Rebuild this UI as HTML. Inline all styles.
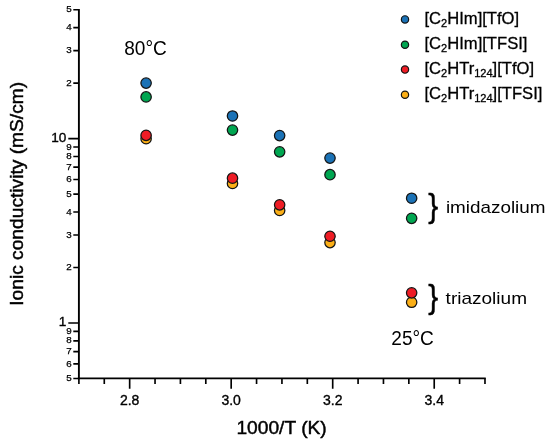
<!DOCTYPE html>
<html><head><meta charset="utf-8"><title>Ionic conductivity</title>
<style>html,body{margin:0;padding:0;background:#fff}svg{display:block}</style></head>
<body>
<svg width="550" height="443" viewBox="0 0 550 443" font-family="Liberation Sans, Arial, Helvetica, sans-serif">
<rect width="550" height="443" fill="#fff"/>
<g stroke="#000" fill="none" stroke-linecap="butt">
<path d="M78.9 8.91V379.30" stroke-width="1.9"/>
<path d="M77.85 378.3H485.78" stroke-width="1.75"/>
<path d="M68.3 138.60H78.9 M68.3 323.00H78.9 M73.3 9.71H78.9 M73.3 27.58H78.9 M73.3 50.62H78.9 M73.3 83.09H78.9 M73.3 147.04H78.9 M73.3 156.47H78.9 M73.3 167.16H78.9 M73.3 179.51H78.9 M73.3 194.11H78.9 M73.3 211.98H78.9 M73.3 235.02H78.9 M73.3 267.49H78.9 M73.3 331.44H78.9 M73.3 340.87H78.9 M73.3 351.56H78.9 M73.3 363.91H78.9 M73.3 378.51H78.9 M78.90 378.3V384.0 M104.28 378.3V384.0 M129.66 378.3V388.7 M155.04 378.3V384.0 M180.42 378.3V384.0 M205.80 378.3V384.0 M231.18 378.3V388.7 M256.56 378.3V384.0 M281.94 378.3V384.0 M307.32 378.3V384.0 M332.70 378.3V388.7 M358.08 378.3V384.0 M383.46 378.3V384.0 M408.84 378.3V384.0 M434.22 378.3V388.7 M459.60 378.3V384.0 M484.98 378.3V384.0" stroke-width="1.65"/>
</g>
<g font-size="9.8" text-anchor="end" fill="#000" stroke="#000" stroke-width="0.25">
<text x="71.7" y="12.31">5</text>
<text x="71.7" y="30.18">4</text>
<text x="71.7" y="53.22">3</text>
<text x="71.7" y="85.69">2</text>
<text x="71.7" y="149.64">9</text>
<text x="71.7" y="159.07">8</text>
<text x="71.7" y="169.76">7</text>
<text x="71.7" y="182.11">6</text>
<text x="71.7" y="196.71">5</text>
<text x="71.7" y="214.58">4</text>
<text x="71.7" y="237.62">3</text>
<text x="71.7" y="270.09">2</text>
<text x="71.7" y="334.04">9</text>
<text x="71.7" y="343.47">8</text>
<text x="71.7" y="354.16">7</text>
<text x="71.7" y="366.51">6</text>
<text x="71.7" y="381.11">5</text>
</g>
<g font-size="13.6" text-anchor="end" fill="#000" stroke="#000" stroke-width="0.35">
<text x="66.4" y="142.00">10</text>
<text x="66.4" y="326.40">1</text>
</g>
<g font-size="14" text-anchor="middle" fill="#000" stroke="#000" stroke-width="0.35">
<text x="129.66" y="404.9">2.8</text>
<text x="231.18" y="404.9">3.0</text>
<text x="332.70" y="404.9">3.2</text>
<text x="434.22" y="404.9">3.4</text>
</g>
<text x="281.6" y="433.5" font-size="19.2" text-anchor="middle" stroke="#000" stroke-width="0.45">1000/T (K)</text>
<text transform="translate(22.95 193.8) rotate(-90)" font-size="19.2" text-anchor="middle" stroke="#000" stroke-width="0.45">Ionic conductivity (mS/cm)</text>
<g stroke="#141414" stroke-width="1.25">
<circle cx="146.1" cy="83.1" r="5.2" fill="#1b72b6"/>
<circle cx="146.1" cy="96.9" r="5.2" fill="#00a651"/>
<circle cx="146.1" cy="138.7" r="5.2" fill="#fbaf17"/>
<circle cx="146.1" cy="135.3" r="5.2" fill="#ee1c25"/>
<circle cx="232.5" cy="115.95" r="5.2" fill="#1b72b6"/>
<circle cx="232.5" cy="130.1" r="5.2" fill="#00a651"/>
<circle cx="232.5" cy="183.4" r="5.2" fill="#fbaf17"/>
<circle cx="232.5" cy="178.15" r="5.2" fill="#ee1c25"/>
<circle cx="279.65" cy="135.55" r="5.2" fill="#1b72b6"/>
<circle cx="279.65" cy="151.85" r="5.2" fill="#00a651"/>
<circle cx="279.65" cy="210.5" r="5.2" fill="#fbaf17"/>
<circle cx="279.65" cy="204.8" r="5.2" fill="#ee1c25"/>
<circle cx="330.0" cy="158.1" r="5.2" fill="#1b72b6"/>
<circle cx="330.0" cy="174.65" r="5.2" fill="#00a651"/>
<circle cx="330.0" cy="242.6" r="5.2" fill="#fbaf17"/>
<circle cx="330.0" cy="236.25" r="5.2" fill="#ee1c25"/>
<circle cx="411.65" cy="198.2" r="5.2" fill="#1b72b6"/>
<circle cx="411.65" cy="218.3" r="5.2" fill="#00a651"/>
<circle cx="411.65" cy="302.3" r="5.2" fill="#fbaf17"/>
<circle cx="411.65" cy="292.85" r="5.2" fill="#ee1c25"/>
<circle cx="405" cy="19.4" r="3.65" stroke-width="1.2" fill="#1b72b6"/>
<circle cx="405" cy="44.7" r="3.65" stroke-width="1.2" fill="#00a651"/>
<circle cx="405" cy="69.6" r="3.65" stroke-width="1.2" fill="#ee1c25"/>
<circle cx="405" cy="94.7" r="3.65" stroke-width="1.2" fill="#fbaf17"/>
</g>
<text x="424.5" y="23.9" font-size="16.6" stroke="#000" stroke-width="0.3"><tspan dy="0">[C</tspan><tspan font-size="11" dy="2.8">2</tspan><tspan dy="-2.8">HIm][TfO]</tspan></text>
<text x="424.5" y="49.3" font-size="16.6" stroke="#000" stroke-width="0.3"><tspan dy="0">[C</tspan><tspan font-size="11" dy="2.8">2</tspan><tspan dy="-2.8">HIm][TFSI]</tspan></text>
<text x="424.5" y="74.0" font-size="16.6" stroke="#000" stroke-width="0.3"><tspan dy="0">[C</tspan><tspan font-size="11" dy="2.8">2</tspan><tspan dy="-2.8">HTr</tspan><tspan font-size="11" dy="2.8">124</tspan><tspan dy="-2.8">][TfO]</tspan></text>
<text x="424.5" y="99.1" font-size="16.6" stroke="#000" stroke-width="0.3"><tspan dy="0">[C</tspan><tspan font-size="11" dy="2.8">2</tspan><tspan dy="-2.8">HTr</tspan><tspan font-size="11" dy="2.8">124</tspan><tspan dy="-2.8">][TFSI]</tspan></text>
<text x="124.2" y="54.8" font-size="19.5" textLength="42.6" lengthAdjust="spacingAndGlyphs">80°C</text>
<text x="391.3" y="344.8" font-size="19.5" textLength="42.6" lengthAdjust="spacingAndGlyphs">25°C</text>
<text x="445.9" y="212.6" font-size="16.6" textLength="99.6" lengthAdjust="spacingAndGlyphs">imidazolium</text>
<text x="445.6" y="303.8" font-size="16.6" textLength="81.4" lengthAdjust="spacingAndGlyphs">triazolium</text>
<text transform="translate(428.3 217.4) scale(0.9 1)" font-size="33" stroke="#000" stroke-width="0.5">}</text>
<text transform="translate(428.3 307.8) scale(0.9 1)" font-size="33" stroke="#000" stroke-width="0.5">}</text>
</svg>
</body></html>
